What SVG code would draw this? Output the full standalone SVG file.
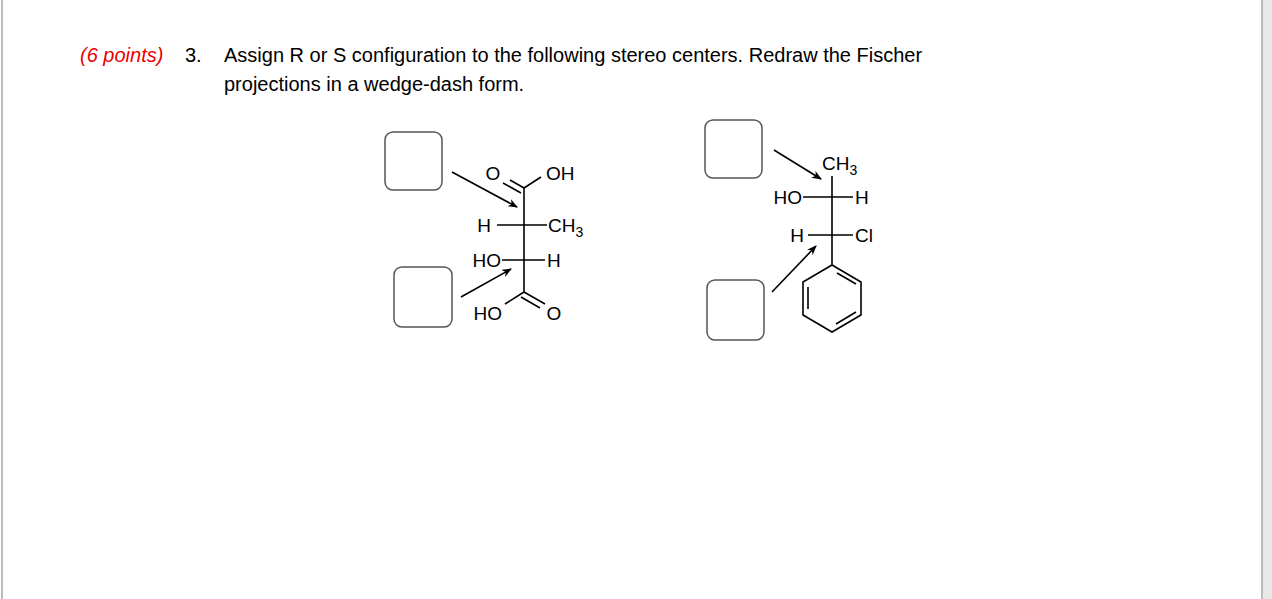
<svg xmlns="http://www.w3.org/2000/svg" width="1272" height="599" viewBox="0 0 1272 599">
<defs><marker id="ah" markerWidth="10" markerHeight="8" refX="9" refY="4" orient="auto" markerUnits="userSpaceOnUse"><path d="M0,0 L10,4 L0,8 L3,4 Z" fill="#000"/></marker>
<style>
.t{font-family:"Liberation Sans",Arial,sans-serif;font-size:20px;fill:#000}
.c{font-family:"Liberation Sans",Arial,sans-serif;font-size:19px;fill:#000}
.b{fill:#fff;stroke:#555;stroke-width:1.5}
.l{stroke:#000;stroke-width:1.6;fill:none}
</style></defs>
<rect width="1272" height="599" fill="#fff"/>
<line x1="2" y1="0" x2="2" y2="599" stroke="#bbb" stroke-width="2"/>
<rect x="1262" y="0" width="10" height="599" fill="#e8e8e8"/>
<line x1="1262" y1="0" x2="1262" y2="599" stroke="#bbb" stroke-width="2"/>
<text x="80" y="62" class="t" style="fill:#e00;font-style:italic">(6 points)</text>
<text x="185" y="62" class="t">3.</text>
<text x="224" y="62" class="t">Assign R or S configuration to the following stereo centers. Redraw the Fischer</text>
<text x="224" y="91" class="t">projections in a wedge-dash form.</text>
<g id="box1"><rect class="b" x="385" y="132" width="57" height="58" rx="8"/></g>
<g id="box2"><rect class="b" x="394" y="267" width="58" height="60" rx="8"/></g>
<g id="box3"><rect class="b" x="705" y="120" width="57" height="58" rx="8"/></g>
<g id="box4"><rect class="b" x="707" y="280" width="57" height="60" rx="8"/></g>
<g id="mol1">
<path class="l" d="M524,188 V292 M497,225 H547 M502,260 H545 M524,188 L510,180 M521,193 L503,183 M524,188 L541,177 M524,292 L505,304 M524,292 L545,304 M521,297 L540,308"/>
<text class="c" x="493" y="180" text-anchor="middle">O</text>
<text class="c" x="546" y="180">OH</text>
<text class="c" x="484" y="232" text-anchor="middle">H</text>
<text class="c" x="548" y="232">CH<tspan font-size="14" dy="5">3</tspan></text>
<text class="c" x="501" y="267" text-anchor="end">HO</text>
<text class="c" x="547" y="267">H</text>
<text class="c" x="502" y="320" text-anchor="end">HO</text>
<text class="c" x="554" y="320" text-anchor="middle">O</text>
</g>
<g id="mol2">
<path class="l" d="M832,176 V265 M803,197 H853 M808,235 H853 M832,265 L861,282 L861,315 L832,332 L803,315 L803,282 Z M837,273 L856,284 M856,312 L836,324 M808,309 L808,287"/>
<text class="c" x="822" y="170">CH<tspan font-size="14" dy="5">3</tspan></text>
<text class="c" x="802" y="204" text-anchor="end">HO</text>
<text class="c" x="855" y="204">H</text>
<text class="c" x="797" y="242" text-anchor="middle">H</text>
<text class="c" x="855" y="242">Cl</text>
</g>
<g id="connectors">
<line class="l" x1="452" y1="172" x2="517" y2="207" marker-end="url(#ah)"/>
<line class="l" x1="461" y1="297" x2="511" y2="269" marker-end="url(#ah)"/>
<line class="l" x1="774" y1="150" x2="821" y2="179" marker-end="url(#ah)"/>
<line class="l" x1="772" y1="292" x2="816" y2="246" marker-end="url(#ah)"/>
</g>
</svg>
